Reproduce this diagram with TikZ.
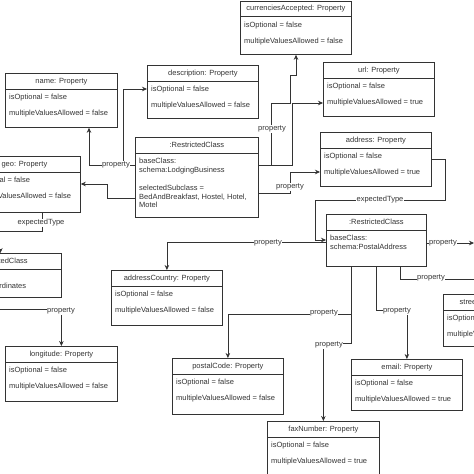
\documentclass[tikz,border=0pt]{standalone}
\usepackage{fontspec}
\setmainfont{Liberation Sans}
\usetikzlibrary{arrows.meta}
\definecolor{umlgray}{HTML}{333333}
\tikzset{classrect/.style={draw=umlgray,line width=0.8pt,inner sep=0pt,anchor=north west},
  divider/.style={draw=umlgray,line width=0.8pt},
  ttl/.style={text=umlgray,font=\fontsize{7.5}{9}\selectfont,inner sep=0pt,text height=5.4pt,text depth=1.6pt},
  body/.style={text=umlgray,font=\fontsize{7.5}{8.8}\selectfont,inner sep=0pt,anchor=north west,align=left},
  link/.style={draw=umlgray,line width=0.6pt},
  arr/.style={link,-{Stealth[length=5pt,width=4.5pt]}},
  lbl/.style={text=umlgray,fill=white,font=\fontsize{7.5}{9}\selectfont,inner sep=0.5pt,text height=5.4pt,text depth=1.6pt}}
\newcommand{\classbox}[6]{%
  \node[classrect,minimum width=#3,minimum height=#4] (#1) at (#2) {};
  \draw[divider] ([yshift=-16pt]#1.north west) -- ([yshift=-16pt]#1.north east);
  \node[ttl] (#1-t) at ([yshift=-8.5pt]#1.north) {#5};
  \node[body] (#1-b) at ([xshift=4pt,yshift=-21pt]#1.north west) {#6};
}

\begin{document}
\begin{tikzpicture}[x=1pt,y=-1pt]
\useasboundingbox (0,0) rectangle (474,474);
\clip (0,0) rectangle (474,474);
\classbox{cur}{240,0.5}{111}{53.5}{currenciesAccepted: Property}{isOptional = false\\[7.2pt]multipleValuesAllowed = false}
\classbox{name}{5,73}{112}{54}{name: Property}{isOptional = false\\[7.2pt]multipleValuesAllowed = false}
\classbox{desc}{147,65}{111}{53}{description: Property}{isOptional = false\\[7.2pt]multipleValuesAllowed = false}
\classbox{url}{323,62}{111}{54}{url: Property}{isOptional = false\\[7.2pt]multipleValuesAllowed = true}
\classbox{geo}{-32,156}{112}{56}{geo: Property}{isOptional = false\\[7.2pt]multipleValuesAllowed = false}
\classbox{addr}{320,132}{111}{54}{address: Property}{isOptional = false\\[7.2pt]multipleValuesAllowed = true}
\classbox{lodging}{135,137}{123}{80}{:RestrictedClass}{baseClass:\\schema:LodgingBusiness\\[9pt]selectedSubclass =\\BedAndBreakfast, Hostel, Hotel,\\Motel}
\classbox{rcPostal}{326,214}{100}{52}{:RestrictedClass}{baseClass:\\schema:PostalAddress}
\classbox{rcGeo}{-61,253}{122}{44}{:RestrictedClass}{baseClass:\\schema:GeoCoordinates}
\classbox{country}{111,270}{111}{55}{addressCountry: Property}{isOptional = false\\[7.2pt]multipleValuesAllowed = false}
\classbox{lon}{5,346}{112}{55}{longitude: Property}{isOptional = false\\[7.2pt]multipleValuesAllowed = false}
\classbox{postal}{172,358}{111}{56}{postalCode: Property}{isOptional = false\\[7.2pt]multipleValuesAllowed = false}
\classbox{email}{351,359}{111}{51}{email: Property}{isOptional = false\\[7.2pt]multipleValuesAllowed = true}
\classbox{fax}{267,421}{112}{56}{faxNumber: Property}{isOptional = false\\[7.2pt]multipleValuesAllowed = true}
\classbox{street}{443,294}{112}{52}{streetAddress: Property}{isOptional = false\\[7.2pt]multipleValuesAllowed = false}
\coordinate (eastend) at (474,243);
\coordinate (streetend) at (480,279);
\draw[arr] ([yshift=-28pt]lodging.north west) -| ([xshift=84pt]name.south west);
\draw[arr] ([yshift=-28pt]lodging.north west) -- ++(-12,0) |- ([yshift=-24pt]desc.north west);
\draw[arr] ([yshift=-61pt]lodging.north west) -- ++(-28,0) |- ([yshift=-28pt]geo.north east);
\draw[arr] ([yshift=-28pt]lodging.north east) -- ++(12,0) -- ++(0,-62) -- ++(19,0) -- ++(0,-28) -| ([xshift=56pt]cur.south west);
\draw[arr] ([yshift=-28pt]lodging.north east) -- ++(33,0) |- ([yshift=-41pt]url.north west);
\draw[arr] ([yshift=-56pt]lodging.north east) -- ++(31,0) |- ([yshift=-40pt]addr.north west);
\draw[arr] ([xshift=74pt]geo.south west) -- ++(0,18) -- ++(-117,0) -- ++(0,18) -| (rcGeo.north);
\draw[arr] ([xshift=-20pt]rcGeo.south) -- ++(0,11) -| (lon.north);
\draw[arr] ([yshift=-27pt]addr.north east) -- ++(13,0) -- ++(0,41) -- ++(-130,0) |- ([yshift=-26pt]rcPostal.north west);
\draw[arr] ([yshift=-28pt]rcPostal.north west) -| (country.north);
\draw[arr] ([yshift=-29pt]rcPostal.north east) -- (eastend);
\draw[link] ([xshift=74pt]rcPostal.south west) |- (streetend);
\draw[arr] ([xshift=50pt]rcPostal.south west) -- ++(0,43) -| (email.north);
\draw[arr] ([xshift=25pt]rcPostal.south west) -- ++(0,47) -| (postal.north);
\draw[arr] ([xshift=25pt]rcPostal.south west) -- ++(0,76) -| (fax.north);
\node[lbl] (l-name) at (116,165) {property};
\node[lbl] (l-cur) at (272,129) {property};
\node[lbl] (l-addr) at (290,187) {property};
\node[lbl] (l-geo) at (41,223) {expectedType};
\node[lbl] (l-lon) at (61,311) {property};
\node[lbl] (l-postaladdr) at (380,200) {expectedType};
\node[lbl] (l-country) at (268,243) {property};
\node[lbl] (l-east) at (443,243) {property};
\node[lbl] (l-street) at (431,278) {property};
\node[lbl] (l-email) at (397,311) {property};
\node[lbl] (l-postal) at (324,313) {property};
\node[lbl] (l-fax) at (329,345) {property};
\end{tikzpicture}
\end{document}
